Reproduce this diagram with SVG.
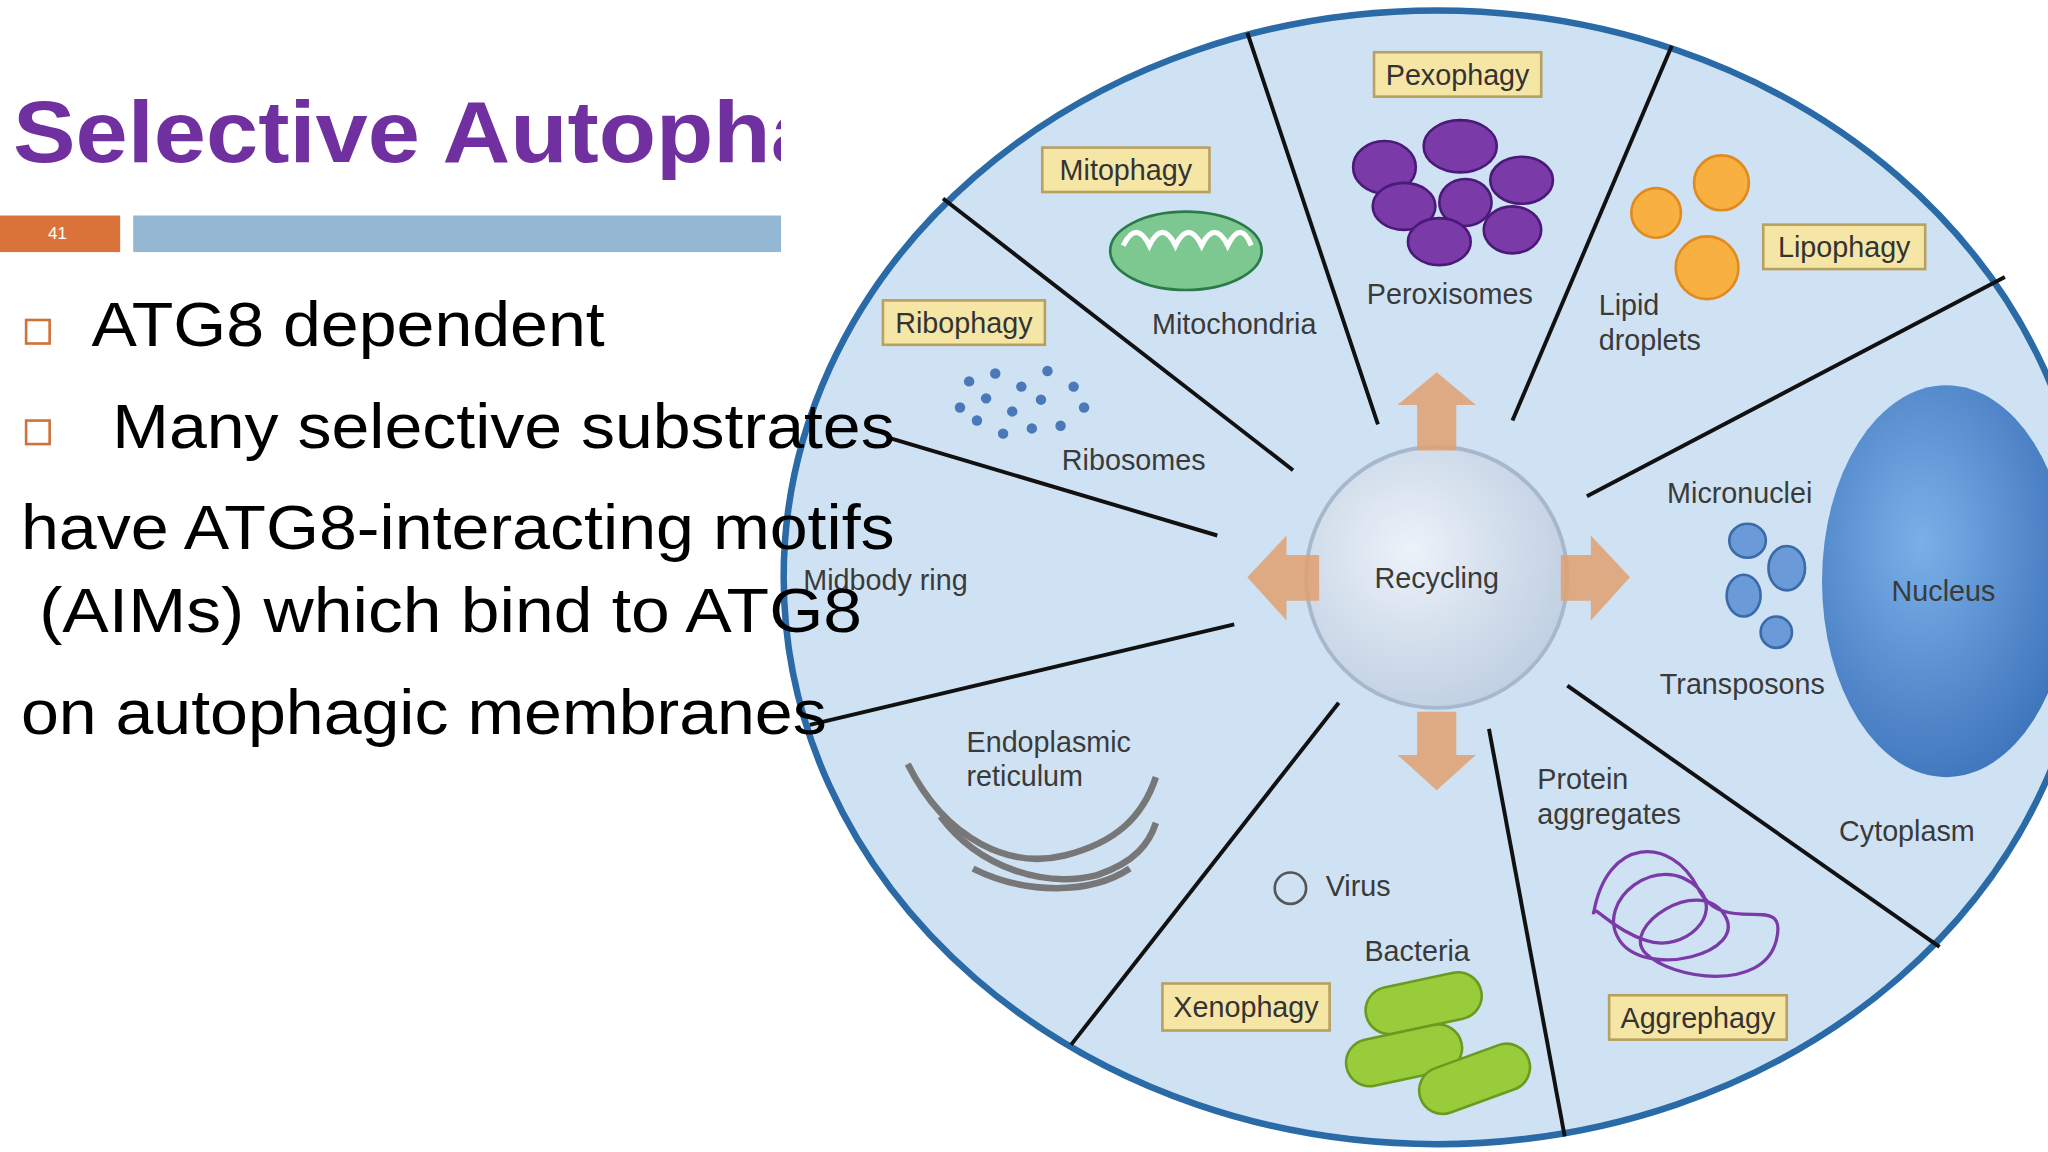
<svg xmlns="http://www.w3.org/2000/svg" width="2048" height="1152" viewBox="0 0 2048 1152">
<defs>
<style>
.lbl{font-family:"Liberation Sans",Arial,sans-serif;font-size:22px;fill:#3a3a3a}
.box{fill:#f5e6a6;stroke:#b8a060;stroke-width:2}
.btxt{font-family:"Liberation Sans",Arial,sans-serif;font-size:22px;fill:#333}
.ln{stroke:#111;stroke-width:3}
.body{font-family:"Liberation Sans",Arial,sans-serif;font-size:48px;fill:#000}
.bul{fill:none;stroke:#d0703a;stroke-width:2}
.perox{fill:#7a3aa8;stroke:#4a1a78;stroke-width:2}
.lip{fill:#f8b040;stroke:#e08a20;stroke-width:2}
.mic{fill:#6a9ad8;stroke:#3a6aa8;stroke-width:2}
.arr{fill:#e0a070;opacity:0.85}
</style>
<clipPath id="tclip"><rect x="0" y="0" width="598" height="160"/></clipPath>
<radialGradient id="nuc" cx="0.4" cy="0.4" r="0.7"><stop offset="0" stop-color="#7ab0e8"/><stop offset="1" stop-color="#3a70b8"/></radialGradient>
<radialGradient id="cen" cx="0.4" cy="0.4" r="0.7"><stop offset="0" stop-color="#f0f4fa" stop-opacity="0.9"/><stop offset="1" stop-color="#b8c8dc" stop-opacity="0.8"/></radialGradient>
</defs>
<rect width="2048" height="1152" fill="#fff"/>
<g transform="scale(1.3061)">
<g id="cell">
<ellipse cx="1100" cy="442" rx="500" ry="434" fill="#cfe2f3" stroke="#2a6aa6" stroke-width="5"/>
</g>
<g id="connectors">
<line class="ln" x1="955" y1="25" x2="1055" y2="325"/>
<line class="ln" x1="1280" y1="35" x2="1158" y2="322"/>
<line class="ln" x1="1535" y1="212" x2="1215" y2="380"/>
<line class="ln" x1="1200" y1="525" x2="1485" y2="725"/>
<line class="ln" x1="1140" y1="558" x2="1198" y2="870"/>
<line class="ln" x1="1025" y1="538" x2="820" y2="800"/>
<line class="ln" x1="945" y1="478" x2="620" y2="555"/>
<line class="ln" x1="932" y1="410" x2="680" y2="335"/>
<line class="ln" x1="990" y1="360" x2="722" y2="152"/>
</g>
<g id="nucleus">
<ellipse cx="1490" cy="445" rx="95" ry="150" fill="url(#nuc)"/>
<text class="lbl" x="1488" y="460" text-anchor="middle">Nucleus</text>
</g>
<g id="recycling">
<circle cx="1100" cy="442" r="100" fill="url(#cen)" stroke="#a8b8cc" stroke-width="3"/>
<polygon class="arr" points="1100,285 1130,310 1115,310 1115,345 1085,345 1085,310 1070,310"/>
<polygon class="arr" points="1100,605 1130,578 1115,578 1115,545 1085,545 1085,578 1070,578"/>
<polygon class="arr" points="955,442 985,410 985,425 1010,425 1010,460 985,460 985,475"/>
<polygon class="arr" points="1248,442 1218,410 1218,425 1195,425 1195,460 1218,460 1218,475"/>
<text class="lbl" x="1100" y="450" text-anchor="middle">Recycling</text>
</g>
<g id="pexophagy">
<rect class="box" x="1052" y="40" width="128" height="34"/>
<text class="btxt" x="1116" y="65" text-anchor="middle">Pexophagy</text>
<ellipse class="perox" cx="1060" cy="128" rx="24" ry="20"/>
<ellipse class="perox" cx="1118" cy="112" rx="28" ry="20"/>
<ellipse class="perox" cx="1165" cy="138" rx="24" ry="18"/>
<ellipse class="perox" cx="1075" cy="158" rx="24" ry="18"/>
<ellipse class="perox" cx="1122" cy="155" rx="20" ry="18"/>
<ellipse class="perox" cx="1158" cy="176" rx="22" ry="18"/>
<ellipse class="perox" cx="1102" cy="185" rx="24" ry="18"/>
<text class="lbl" x="1110" y="233" text-anchor="middle">Peroxisomes</text>
</g>
<g id="mitophagy">
<rect class="box" x="798" y="113" width="128" height="34"/>
<text class="btxt" x="862" y="138" text-anchor="middle">Mitophagy</text>
<ellipse cx="908" cy="192" rx="58" ry="30" fill="#7cc890" stroke="#2a7a4a" stroke-width="2"/>
<path d="M860,188 q10,-20 20,0 q10,-20 20,0 q10,-20 20,0 q10,-20 20,0 q10,-20 18,0" fill="none" stroke="#fff" stroke-width="4"/>
<text class="lbl" x="945" y="256" text-anchor="middle">Mitochondria</text>
</g>
<g id="ribophagy">
<rect class="box" x="676" y="230" width="124" height="34"/>
<text class="btxt" x="738" y="255" text-anchor="middle">Ribophagy</text>
<g fill="#4a78b8">
<circle cx="742" cy="292" r="4"/><circle cx="762" cy="286" r="4"/><circle cx="782" cy="296" r="4"/><circle cx="802" cy="284" r="4"/><circle cx="822" cy="296" r="4"/>
<circle cx="735" cy="312" r="4"/><circle cx="755" cy="305" r="4"/><circle cx="775" cy="315" r="4"/><circle cx="797" cy="306" r="4"/><circle cx="830" cy="312" r="4"/>
<circle cx="768" cy="332" r="4"/><circle cx="790" cy="328" r="4"/><circle cx="812" cy="326" r="4"/><circle cx="748" cy="322" r="4"/>
</g>
<text class="lbl" x="868" y="360" text-anchor="middle">Ribosomes</text>
</g>
<g id="lipophagy">
<rect class="box" x="1350" y="172" width="124" height="34"/>
<text class="btxt" x="1412" y="197" text-anchor="middle">Lipophagy</text>
<circle class="lip" cx="1268" cy="163" r="19"/>
<circle class="lip" cx="1318" cy="140" r="21"/>
<circle class="lip" cx="1307" cy="205" r="24"/>
<text class="lbl" x="1224" y="241">Lipid</text>
<text class="lbl" x="1224" y="268">droplets</text>
</g>
<g id="micronuclei">
<text class="lbl" x="1332" y="385" text-anchor="middle">Micronuclei</text>
<ellipse class="mic" cx="1338" cy="414" rx="14" ry="13"/>
<ellipse class="mic" cx="1368" cy="435" rx="14" ry="17"/>
<ellipse class="mic" cx="1335" cy="456" rx="13" ry="16"/>
<ellipse class="mic" cx="1360" cy="484" rx="12" ry="12"/>
<text class="lbl" x="1334" y="531" text-anchor="middle">Transposons</text>
</g>
<text class="lbl" x="1460" y="644" text-anchor="middle">Cytoplasm</text>
<g id="aggrephagy">
<rect class="box" x="1232" y="762" width="136" height="34"/>
<text class="btxt" x="1300" y="787" text-anchor="middle">Aggrephagy</text>
<text class="lbl" x="1177" y="604">Protein</text>
<text class="lbl" x="1177" y="631">aggregates</text>
<path d="M1220,700 c10,-60 60,-60 80,-20 c20,40 70,0 60,40 c-10,40 -80,30 -100,10 c-20,-20 40,-60 60,-30 c20,30 -60,50 -80,20 c-20,-30 30,-70 60,-40 c20,20 -10,50 -40,40 c-30,-10 -40,-30 -40,-20" fill="none" stroke="#7a3aa8" stroke-width="2.5"/>
</g>
<g id="xenophagy">
<rect class="box" x="890" y="753" width="128" height="36"/>
<text class="btxt" x="954" y="779" text-anchor="middle">Xenophagy</text>
<circle cx="988" cy="680" r="12" fill="none" stroke="#555" stroke-width="2"/>
<text class="lbl" x="1015" y="686">Virus</text>
<text class="lbl" x="1085" y="736" text-anchor="middle">Bacteria</text>
<rect x="1045" y="750" width="90" height="36" rx="18" fill="#98cc3a" stroke="#6a9a20" stroke-width="2" transform="rotate(-12 1090 768)"/>
<rect x="1030" y="790" width="90" height="36" rx="18" fill="#98cc3a" stroke="#6a9a20" stroke-width="2" transform="rotate(-12 1075 808)"/>
<rect x="1085" y="808" width="88" height="36" rx="18" fill="#98cc3a" stroke="#6a9a20" stroke-width="2" transform="rotate(-20 1129 826)"/>
</g>
<g id="er">
<text class="lbl" x="740" y="576">Endoplasmic</text>
<text class="lbl" x="740" y="602">reticulum</text>
<path d="M695,585 c30,60 80,80 120,70 c40,-10 60,-30 70,-60" fill="none" stroke="#777" stroke-width="5"/>
<path d="M720,625 c30,40 80,55 120,45 c30,-10 40,-25 45,-40" fill="none" stroke="#777" stroke-width="5"/>
<path d="M745,665 c40,20 90,20 120,0" fill="none" stroke="#777" stroke-width="5"/>
</g>
<g id="midbody">
<text class="lbl" x="615" y="452">Midbody ring</text>
</g>
<g id="slide">
<text x="10" y="124" font-family="Liberation Sans,Arial,sans-serif" font-size="66" font-weight="bold" fill="#7030a0" clip-path="url(#tclip)" textLength="620" lengthAdjust="spacingAndGlyphs">Selective Autopha</text>
<rect x="0" y="165" width="92" height="28" fill="#d9733a"/>
<text x="44" y="183" font-family="Liberation Sans,Arial,sans-serif" font-size="13" fill="#fff" text-anchor="middle">41</text>
<rect x="102" y="165" width="496" height="28" fill="#94b8d4"/>
<rect class="bul" x="20" y="245" width="18" height="18"/>
<text class="body" x="70" y="265" textLength="393" lengthAdjust="spacingAndGlyphs">ATG8 dependent</text>
<rect class="bul" x="20" y="322" width="18" height="18"/>
<text class="body" x="86" y="343" textLength="599" lengthAdjust="spacingAndGlyphs">Many selective substrates</text>
<text class="body" x="16" y="420" textLength="669" lengthAdjust="spacingAndGlyphs">have ATG8-interacting motifs</text>
<text class="body" x="30" y="484" textLength="630" lengthAdjust="spacingAndGlyphs">(AIMs)  which bind to ATG8</text>
<text class="body" x="16" y="562" textLength="617" lengthAdjust="spacingAndGlyphs">on autophagic membranes</text>
</g>
</g>
</svg>
